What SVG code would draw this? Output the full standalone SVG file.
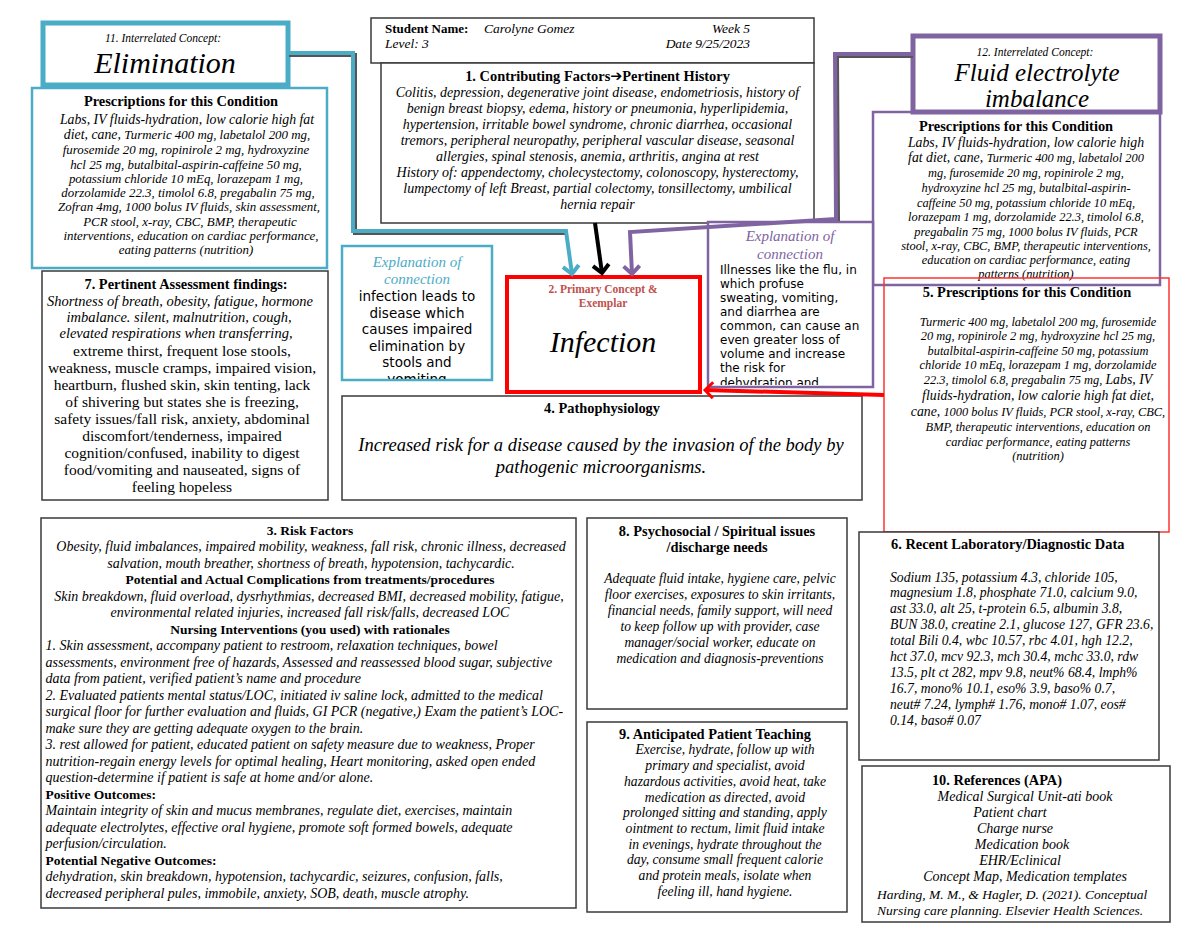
<svg xmlns="http://www.w3.org/2000/svg" width="1200" height="927" viewBox="0 0 1200 927">
<defs>
<style>
text{font-family:'Liberation Serif','Times New Roman',serif;fill:#000}
.b{font-weight:bold}
.i{font-style:italic}
.m{text-anchor:middle}
.e{text-anchor:end}
.sans text,text.sans{font-family:'DejaVu Sans',Verdana,sans-serif}
.box{fill:#fff;stroke:#3a3a3a;stroke-width:1.5}
.tb{fill:#fff;stroke:#4BACC6;stroke-width:2.5}
.tbk{fill:#fff;stroke:#4BACC6;stroke-width:5}
.pb{fill:#fff;stroke:#8064A2;stroke-width:2.5}
.pbk{fill:#fff;stroke:#8064A2;stroke-width:5}
.teal{fill:#4BACC6}
.purple{fill:#8064A2}
.redt{fill:#C0504D}
.conn{fill:none;stroke-width:4;stroke-linejoin:miter}
</style>
<marker id="arT" markerUnits="userSpaceOnUse" viewBox="-12 -12 24 24" markerWidth="24" markerHeight="24" refX="0" refY="0" orient="auto"><path d="M-8,-8 L0,0 L-8,8" fill="none" stroke="#4BACC6" stroke-width="4"/></marker>
<marker id="arK" markerUnits="userSpaceOnUse" viewBox="-12 -12 24 24" markerWidth="24" markerHeight="24" refX="0" refY="0" orient="auto"><path d="M-8,-8 L0,0 L-8,8" fill="none" stroke="#000" stroke-width="4"/></marker>
<marker id="arP" markerUnits="userSpaceOnUse" viewBox="-12 -12 24 24" markerWidth="24" markerHeight="24" refX="0" refY="0" orient="auto"><path d="M-8,-8 L0,0 L-8,8" fill="none" stroke="#8064A2" stroke-width="4"/></marker>
<marker id="arR" markerUnits="userSpaceOnUse" viewBox="-12 -12 24 24" markerWidth="24" markerHeight="24" refX="0" refY="0" orient="auto"><path d="M-8,-8 L0,0 L-8,8" fill="none" stroke="#FF0000" stroke-width="3"/></marker>
<clipPath id="clipTeal"><rect x="343" y="247" width="148" height="132"/></clipPath>
<clipPath id="clipPur"><rect x="709" y="223" width="163" height="162"/></clipPath>
</defs>
<rect width="1200" height="927" fill="#fff"/>

<g id="elimination-rx">
<rect class="tb" x="32" y="88" width="295" height="180"/>
<text class="b m" x="181" y="106" font-size="14.4">Prescriptions for this Condition</text>
<g class="i m" font-size="12.9">
<text x="187" y="123.5" font-size="13.8">Labs, IV fluids-hydration, low calorie high fat</text>
<text x="187" y="139"><tspan font-size="13.8">diet, cane, </tspan>Turmeric 400 mg, labetalol 200 mg,</text>
<text x="186" y="154">furosemide 20 mg, ropinirole 2 mg, hydroxyzine</text>
<text x="186" y="168.5">hcl 25 mg, butalbital-aspirin-caffeine 50 mg,</text>
<text x="186" y="182.5">potassium chloride 10 mEq, lorazepam 1 mg,</text>
<text x="188" y="197">dorzolamide 22.3, timolol 6.8, pregabalin 75 mg,</text>
<text x="189" y="211">Zofran 4mg, 1000 bolus IV fluids, skin assessment,</text>
<text x="190" y="226">PCR stool, x-ray, CBC, BMP, therapeutic</text>
<text x="191" y="240">interventions, education on cardiac performance,</text>
<text x="186" y="254">eating patterns (nutrition)</text>
</g>
</g>

<g id="elimination">
<rect class="tbk" x="43" y="23" width="245" height="62"/>
<text class="i m" x="163" y="42" font-size="11.5">11. Interrelated Concept:</text>
<text class="i m" x="165" y="73" font-size="30">Elimination</text>
</g>

<g id="student">
<rect class="box" x="371" y="18" width="443" height="45"/>
<text class="b" x="385" y="33" font-size="13">Student Name:</text>
<text class="i" x="484" y="33" font-size="13.5">Carolyne Gomez</text>
<text class="i e" x="750" y="33" font-size="13.5">Week 5</text>
<text class="i" x="385" y="48" font-size="13.5">Level: 3</text>
<text class="i e" x="750" y="48" font-size="13.5">Date 9/25/2023</text>
</g>

<g id="contributing">
<rect class="box" x="381" y="63" width="433" height="160"/>
<text class="b m" x="597.5" y="81" font-size="14.4">1. Contributing Factors<tspan font-family="DejaVu Sans" font-weight="normal">➔</tspan>Pertinent History</text>
<g class="i m" font-size="14">
<text x="597.5" y="97">Colitis, depression, degenerative joint disease, endometriosis, history of</text>
<text x="597.5" y="113">benign breast biopsy, edema, history or pneumonia, hyperlipidemia,</text>
<text x="597.5" y="129">hypertension, irritable bowel syndrome, chronic diarrhea, occasional</text>
<text x="597.5" y="145">tremors, peripheral neuropathy, peripheral vascular disease, seasonal</text>
<text x="597.5" y="161">allergies, spinal stenosis, anemia, arthritis, angina at rest</text>
<text x="597.5" y="177">History of: appendectomy, cholecystectomy, colonoscopy, hysterectomy,</text>
<text x="597.5" y="193">lumpectomy of left Breast, partial colectomy, tonsillectomy, umbilical</text>
<text x="597.5" y="209">hernia repair</text>
</g>
</g>

<g id="fluid-rx">
<rect class="pb" x="873" y="112" width="287" height="173"/>
<text class="b m" x="1016" y="131" font-size="14.4">Prescriptions for this Condition</text>
<g class="i m" font-size="12.4">
<text x="1026" y="147" font-size="13.8">Labs, IV fluids-hydration, low calorie high</text>
<text x="1026" y="162"><tspan font-size="13.8">fat diet, cane, </tspan>Turmeric 400 mg, labetalol 200</text>
<text x="1026" y="177">mg, furosemide 20 mg, ropinirole 2 mg,</text>
<text x="1026" y="192">hydroxyzine hcl 25 mg, butalbital-aspirin-</text>
<text x="1026" y="206.5">caffeine 50 mg, potassium chloride 10 mEq,</text>
<text x="1026" y="221">lorazepam 1 mg, dorzolamide 22.3, timolol 6.8,</text>
<text x="1026" y="235.5">pregabalin 75 mg, 1000 bolus IV fluids, PCR</text>
<text x="1026" y="250">stool, x-ray, CBC, BMP, therapeutic interventions,</text>
<text x="1026" y="264">education on cardiac performance, eating</text>
<text x="1026" y="278">patterns (nutrition)</text>
</g>
</g>

<g id="fluid">
<rect class="pbk" x="913" y="36" width="247" height="76"/>
<text class="i m" x="1035" y="56" font-size="11.5">12. Interrelated Concept:</text>
<text class="i m" x="1037" y="81" font-size="25">Fluid electrolyte</text>
<text class="i m" x="1037" y="107" font-size="25">imbalance</text>
</g>

<g id="prescriptions">
<rect x="884" y="278" width="285" height="254" fill="none" stroke="#FF3333" stroke-width="1.5"/>
<text class="b m" x="1027" y="297" font-size="14.4">5. Prescriptions for this Condition</text>
<g class="i m" font-size="12.4">
<text x="1038" y="325.5">Turmeric 400 mg, labetalol 200 mg, furosemide</text>
<text x="1038" y="340">20 mg, ropinirole 2 mg, hydroxyzine hcl 25 mg,</text>
<text x="1038" y="354.5">butalbital-aspirin-caffeine 50 mg, potassium</text>
<text x="1038" y="369">chloride 10 mEq, lorazepam 1 mg, dorzolamide</text>
<text x="1038" y="383.5">22.3, timolol 6.8, pregabalin 75 mg, <tspan font-size="13.8">Labs, IV</tspan></text>
<text x="1038" y="400" font-size="13.8">fluids-hydration, low calorie high fat diet,</text>
<text x="1038" y="415.5"><tspan font-size="13.8">cane,</tspan> 1000 bolus IV fluids, PCR stool, x-ray, CBC,</text>
<text x="1038" y="430.5">BMP, therapeutic interventions, education on</text>
<text x="1038" y="445.5">cardiac performance, eating patterns</text>
<text x="1038" y="460">(nutrition)</text>
</g>
</g>

<g id="explanation-elimination">
<rect class="tb" x="342" y="246" width="150" height="134"/>
<g clip-path="url(#clipTeal)">
<text class="i m teal" x="417" y="267" font-size="15">Explanation of</text>
<text class="i m teal" x="417" y="284" font-size="15">connection</text>
<g class="sans m" font-size="13.5">
<text x="417" y="301">infection leads to</text>
<text x="417" y="318">disease which</text>
<text x="417" y="334">causes impaired</text>
<text x="417" y="351">elimination by</text>
<text x="417" y="367">stools and</text>
<text x="417" y="384">vomiting</text>
</g>
</g>
</g>

<g id="explanation-fluid">
<rect class="pb" x="708" y="222" width="165" height="165"/>
<g clip-path="url(#clipPur)">
<text class="i m purple" x="790" y="241" font-size="15">Explanation of</text>
<text class="i m purple" x="790" y="259" font-size="15">connection</text>
<g class="sans" font-size="12">
<text x="720" y="273.5">Illnesses like the flu, in</text>
<text x="720" y="287.5">which profuse</text>
<text x="720" y="301.5">sweating, vomiting,</text>
<text x="720" y="315.5">and diarrhea are</text>
<text x="720" y="329.5">common, can cause an</text>
<text x="720" y="343.5">even greater loss of</text>
<text x="720" y="357.5">volume and increase</text>
<text x="720" y="371.5">the risk for</text>
<text x="720" y="387">dehydration and</text>
</g>
</g>
</g>

<g id="infection">
<rect x="507" y="277" width="193" height="115" fill="#fff" stroke="#FF0000" stroke-width="4"/>
<text class="b m redt" x="603" y="293" font-size="11.5">2. Primary Concept &amp;</text>
<text class="b m redt" x="603" y="307" font-size="11.5">Exemplar</text>
<text class="i m" x="603" y="352" font-size="30">Infection</text>
</g>

<g id="assessment">
<rect class="box" x="42" y="271" width="286" height="229"/>
<text class="b m" x="186" y="289" font-size="14.4">7. Pertinent Assessment findings:</text>
<g class="i m" font-size="14.5">
<text x="180" y="306">Shortness of breath, obesity, fatigue, hormone</text>
<text x="179" y="322">imbalance. silent, malnutrition, cough,</text>
<text x="176" y="338">elevated respirations when transferring,</text>
</g>
<g class="m" font-size="15.5">
<text x="182" y="356">extreme thirst, frequent lose stools,</text>
<text x="182" y="373">weakness, muscle cramps, impaired vision,</text>
<text x="182" y="390">heartburn, flushed skin, skin tenting, lack</text>
<text x="182" y="407">of shivering but states she is freezing,</text>
<text x="182" y="424">safety issues/fall risk, anxiety, abdominal</text>
<text x="182" y="441">discomfort/tenderness, impaired</text>
<text x="182" y="458">cognition/confused, inability to digest</text>
<text x="182" y="475">food/vomiting and nauseated, signs of</text>
<text x="182" y="492">feeling hopeless</text>
</g>
</g>

<g id="pathophysiology">
<rect class="box" x="342" y="396" width="520" height="104"/>
<text class="b m" x="602" y="413" font-size="14.4">4. Pathophysiology</text>
<text class="i m" x="601" y="451" font-size="18.5">Increased risk for a disease caused by the invasion of the body by</text>
<text class="i m" x="601" y="473" font-size="18.5">pathogenic microorganisms.</text>
</g>

<g id="risk-factors">
<rect class="box" x="41" y="518" width="535" height="390"/>
<g class="b m" font-size="13.5">
<text x="310" y="534.6">3. Risk Factors</text>
<text x="310" y="584">Potential and Actual Complications from treatments/procedures</text>
<text x="310" y="633.6">Nursing Interventions (you used) with rationales</text>
</g>
<g class="i m" font-size="14">
<text x="311" y="551">Obesity, fluid imbalances, impaired mobility, weakness, fall risk, chronic illness, decreased</text>
<text x="311" y="567.6">salvation, mouth breather, shortness of breath, hypotension, tachycardic.</text>
<text x="309" y="600.6">Skin breakdown, fluid overload, dysrhythmias, decreased BMI, decreased mobility, fatigue,</text>
<text x="310" y="617">environmental related injuries, increased fall risk/falls, decreased LOC</text>
</g>
<g class="i" font-size="14">
<text x="45.5" y="650">1. Skin assessment, accompany patient to restroom, relaxation techniques, bowel</text>
<text x="45.5" y="666.6">assessments, environment free of hazards, Assessed and reassessed blood sugar, subjective</text>
<text x="45.5" y="683">data from patient, verified patient’s name and procedure</text>
<text x="45.5" y="699.6">2. Evaluated patients mental status/LOC, initiated iv saline lock, admitted to the medical</text>
<text x="45.5" y="716">surgical floor for further evaluation and fluids, GI PCR (negative,) Exam the patient’s LOC-</text>
<text x="45.5" y="732.6">make sure they are getting adequate oxygen to the brain.</text>
<text x="45.5" y="749">3. rest allowed for patient, educated patient on safety measure due to weakness, Proper</text>
<text x="45.5" y="765.6">nutrition-regain energy levels for optimal healing, Heart monitoring, asked open ended</text>
<text x="45.5" y="782">question-determine if patient is safe at home and/or alone.</text>
<text x="45.5" y="815">Maintain integrity of skin and mucus membranes, regulate diet, exercises, maintain</text>
<text x="45.5" y="831.6">adequate electrolytes, effective oral hygiene, promote soft formed bowels, adequate</text>
<text x="45.5" y="848">perfusion/circulation.</text>
<text x="45.5" y="881">dehydration, skin breakdown, hypotension, tachycardic, seizures, confusion, falls,</text>
<text x="45.5" y="897.6">decreased peripheral pules, immobile, anxiety, SOB, death, muscle atrophy.</text>
</g>
<g class="b" font-size="13.5">
<text x="45.5" y="798.6">Positive Outcomes:</text>
<text x="45.5" y="864.6">Potential Negative Outcomes:</text>
</g>
</g>

<g id="psychosocial">
<rect class="box" x="587" y="518" width="260" height="191"/>
<text class="b m" x="717" y="536" font-size="14.4">8. Psychosocial / Spiritual issues</text>
<text class="b m" x="717" y="552" font-size="14.4">/discharge needs</text>
<g class="i m" font-size="13.6">
<text x="720" y="583">Adequate fluid intake, hygiene care, pelvic</text>
<text x="720" y="599">floor exercises, exposures to skin irritants,</text>
<text x="720" y="615">financial needs, family support, will need</text>
<text x="720" y="631">to keep follow up with provider, case</text>
<text x="720" y="647">manager/social worker, educate on</text>
<text x="720" y="663">medication and diagnosis-preventions</text>
</g>
</g>

<g id="teaching">
<rect class="box" x="587" y="722" width="260" height="190"/>
<text class="b m" x="715" y="739" font-size="14.4">9. Anticipated Patient Teaching</text>
<g class="i m" font-size="13.6">
<text x="725" y="754">Exercise, hydrate, follow up with</text>
<text x="725" y="770">primary and specialist, avoid</text>
<text x="725" y="786">hazardous activities, avoid heat, take</text>
<text x="725" y="801.5">medication as directed, avoid</text>
<text x="725" y="817">prolonged sitting and standing, apply</text>
<text x="725" y="833">ointment to rectum, limit fluid intake</text>
<text x="725" y="848.5">in evenings, hydrate throughout the</text>
<text x="725" y="864">day, consume small frequent calorie</text>
<text x="725" y="880">and protein meals, isolate when</text>
<text x="725" y="896">feeling ill, hand hygiene.</text>
</g>
</g>

<g id="lab-data">
<rect class="box" x="859" y="532" width="300" height="228"/>
<text class="b" x="891" y="549" font-size="14.4">6. Recent Laboratory/Diagnostic Data</text>
<g class="i" font-size="13.7">
<text x="890" y="581.5">Sodium 135, potassium 4.3, chloride 105,</text>
<text x="890" y="597.4">magnesium 1.8, phosphate 71.0, calcium 9.0,</text>
<text x="890" y="613.3">ast 33.0, alt 25, t-protein 6.5, albumin 3.8,</text>
<text x="890" y="629.2">BUN 38.0, creatine 2.1, glucose 127, GFR 23.6,</text>
<text x="890" y="645.1">total Bili 0.4, wbc 10.57, rbc 4.01, hgh 12.2,</text>
<text x="890" y="661">hct 37.0, mcv 92.3, mch 30.4, mchc 33.0, rdw</text>
<text x="890" y="676.9">13.5, plt ct 282, mpv 9.8, neut% 68.4, lmph%</text>
<text x="890" y="692.8">16.7, mono% 10.1, eso% 3.9, baso% 0.7,</text>
<text x="890" y="708.7">neut# 7.24, lymph# 1.76, mono# 1.07, eos#</text>
<text x="890" y="724.6">0.14, baso# 0.07</text>
</g>
</g>

<g id="references">
<rect class="box" x="862" y="766" width="308" height="156"/>
<text class="b m" x="997" y="785" font-size="14.4">10. References (APA)</text>
<g class="i m" font-size="14">
<text x="1025" y="801">Medical Surgical Unit-ati book</text>
<text x="1010" y="817">Patient chart</text>
<text x="1015" y="833">Charge nurse</text>
<text x="1022" y="849">Medication book</text>
<text x="1020" y="865">EHR/Eclinical</text>
<text x="1025" y="881">Concept Map, Medication templates</text>
</g>
<g class="i" font-size="13.5">
<text x="877" y="899">Harding, M. M., &amp; Hagler, D. (2021). Conceptual</text>
<text x="877" y="915">Nursing care planning. Elsevier Health Sciences.</text>
</g>
</g>

<g id="connectors">
<path class="conn" d="M289,55 H355 V233 H568" stroke="#555" stroke-width="4"/>
<path class="conn" d="M288,53 H353 V231 H566 L572,274" stroke="#4BACC6" marker-end="url(#arT)"/>
<path class="conn" d="M595,223 L602,273" stroke="#000" marker-end="url(#arK)"/>
<path class="conn" d="M913,56 H837 L838,221" stroke="#555" stroke-width="4"/>
<path class="conn" d="M913,54 H835 L836,219 L630,232 L632,274" stroke="#8064A2" marker-end="url(#arP)"/>
<path class="conn" d="M884,395 L705,390" stroke="#FF0000" marker-end="url(#arR)"/>
</g>
</svg>
